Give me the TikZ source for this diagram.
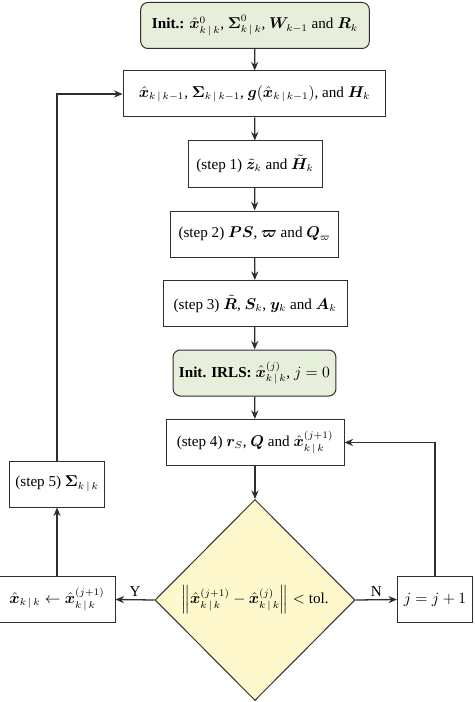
\documentclass[tikz,border=0pt]{standalone}
\usepackage{fontspec}
\setmainfont{Liberation Serif}
\usepackage{amsmath,bm}
\usetikzlibrary{shapes.geometric,arrows.meta}
\definecolor{linecol}{HTML}{2E2E2E}
\definecolor{initgreen}{HTML}{E5EFD9}
\definecolor{decyellow}{HTML}{FFF8CC}
\newcommand{\kk}{k\,|\,k}
\newcommand{\kkm}{k\,|\,k-1}
\begin{document}
\begin{tikzpicture}[x=0.7pt,y=-0.7pt,
  every node/.style={font=\fontsize{10.6}{12.7}\selectfont},
  box/.style={draw=linecol, line width=0.7pt, fill=white, minimum height=32.2pt, inner sep=2pt},
  initbox/.style={box, fill=initgreen, rounded corners=5pt},
  decision/.style={draw=linecol, line width=0.7pt, fill=decyellow, shape=diamond, aspect=1, inner sep=0pt, minimum width=140pt, minimum height=140.7pt},
  arr/.style={-{Stealth[length=6pt,width=5pt]}, line width=0.9pt, draw=linecol},
  lbl/.style={inner sep=2pt}]
\useasboundingbox (0,0) rectangle (474,702);

\node[initbox, minimum width=160pt] (init) at (255,25.5)
  {\textbf{Init.:} $\hat{\bm{x}}^0_{\kk}$, $\bm{\Sigma}^0_{\kk}$, $\bm{W}_{k-1}$ and $\bm{R}_k$};
\node[box, minimum width=184pt] (b2) at (254.5,94)
  {$\hat{\bm{x}}_{\kkm}$, $\bm{\Sigma}_{\kkm}$, $\bm{g}(\hat{\bm{x}}_{\kkm})$, and $\bm{H}_k$};
\node[box, minimum width=93.8pt] (s1) at (255,164)
  {(step 1) $\tilde{\bm{z}}_k$ and $\tilde{\bm{H}}_k$};
\node[box, minimum width=117pt] (s2) at (254.5,234)
  {(step 2) $\bm{P}\bm{S}$, $\bm{\varpi}$ and $\bm{Q}_{\varpi}$};
\node[box, minimum width=128.8pt] (s3) at (255,303.5)
  {(step 3) $\tilde{\bm{R}}$, $\bm{S}_k$, $\bm{y}_k$ and $\bm{A}_k$};
\node[initbox, minimum width=114pt] (irls) at (254.5,373)
  {\textbf{Init. IRLS:} $\hat{\bm{x}}^{(j)}_{\kk}$, $j=0$};
\node[box, minimum width=124.6pt] (s4) at (255,442.5)
  {(step 4) $\bm{r}_S$, $\bm{Q}$ and $\hat{\bm{x}}^{(j+1)}_{\kk}$};
\node[decision] (dec) at (255,600)
  {$\left\|\hat{\bm{x}}^{(j+1)}_{\kk}-\hat{\bm{x}}^{(j)}_{\kk}\right\| <$ tol.};
\node[box, minimum width=81.2pt] (upd) at (57,599.5)
  {$\hat{\bm{x}}_{\kk}\leftarrow\hat{\bm{x}}^{(j+1)}_{\kk}$};
\node[box, minimum width=65.8pt] (s5) at (57,484)
  {(step 5) $\bm{\Sigma}_{\kk}$};
\node[box, minimum width=52.5pt] (inc) at (435,599.5)
  {$j=j+1$};

\draw[arr] (init) -- (b2);
\draw[arr] (b2) -- (s1);
\draw[arr] (s1) -- (s2);
\draw[arr] (s2) -- (s3);
\draw[arr] (s3) -- (irls);
\draw[arr] (irls) -- (s4);
\draw[arr] (s4) -- (dec);
\draw[arr] (dec.west) -- node[lbl, above] {Y} (upd.east);
\draw[arr] (upd) -- (s5);
\draw[arr] (s5.north) |- (b2.west);
\draw[arr] (dec.east) -- node[lbl, above] {N} (inc.west);
\draw[arr] (inc.north) |- (s4.east);
\end{tikzpicture}
\end{document}
